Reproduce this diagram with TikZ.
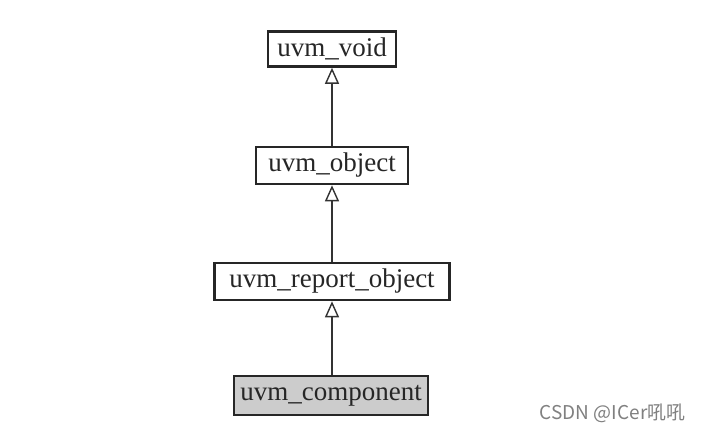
\documentclass[tikz,border=0pt]{standalone}
\usepackage{fontspec}
\setmainfont{Liberation Serif}
\newfontfamily\wmfont{Noto Sans CJK SC}
\usetikzlibrary{arrows.meta}
\begin{document}
\begin{tikzpicture}[x=1pt,y=-1pt,
  cls/.style={draw=black!85,line width=2.6pt,fill=white,inner sep=0pt,
    font=\fontsize{27}{27}\selectfont,text=black!85},
  inh/.style={draw=black!80,line width=1.7pt,
    -{Triangle[open,length=16pt,width=14pt,line width=1.4pt]}}]
\useasboundingbox (0,0) rectangle (702,434);
\fill[white] (0,0) rectangle (702,434);
\node[cls,minimum width=128pt,minimum height=35pt] (void) at (332,49) {uvm\_void};
\node[cls,minimum width=152pt,minimum height=37pt] (obj) at (332,165.5) {uvm\_object};
\node[cls,minimum width=235pt,minimum height=37pt] (rep) at (332,281.5) {uvm\_report\_object};
\node[cls,fill=black!20,minimum width=194pt,minimum height=39pt] (comp) at (331,395.5) {uvm\_component};
\draw[inh] (obj.north -| void.south) -- (void.south);
\draw[inh] (rep.north -| obj.south) -- (obj.south);
\draw[inh] (comp.north -| rep.south) -- (rep.south);
\node[font=\wmfont\fontsize{19}{19}\selectfont,text=black!50,anchor=east] (wm) at (689,413) {CSDN @ICer吼吼};
\end{tikzpicture}
\end{document}
